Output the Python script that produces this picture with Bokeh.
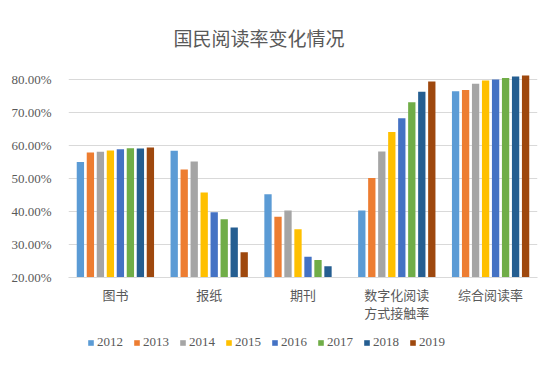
from bokeh.plotting import figure
from bokeh.layouts import column
from bokeh.models import ColumnDataSource, Range1d, FactorRange, NumeralTickFormatter, Legend, LegendItem, FixedTicker
from bokeh.transform import dodge
from bokeh.embed import file_html
from bokeh.resources import INLINE

title = "国民阅读率变化情况"
categories = ["图书", "报纸", "期刊", "数字化阅读\n方式接触率", "综合阅读率"]
years = ["2012", "2013", "2014", "2015", "2016", "2017", "2018", "2019"]
# values in percent, one list per year, in category order
v2012 = [54.9, 58.3, 45.2, 40.3, 76.3]
v2013 = [57.8, 52.7, 38.4, 50.1, 76.7]
v2014 = [58.0, 55.1, 40.3, 58.1, 78.6]
v2015 = [58.4, 45.7, 34.6, 64.0, 79.6]
v2016 = [58.8, 39.7, 26.3, 68.2, 79.9]
v2017 = [59.1, 37.6, 25.3, 73.0, 80.3]
v2018 = [59.0, 35.1, 23.4, 76.2, 80.8]
v2019 = [59.3, 27.6, 19.3, 79.3, 81.1]
series = [v2012, v2013, v2014, v2015, v2016, v2017, v2018, v2019]
colors = ["#5B9BD5", "#ED7D31", "#A5A5A5", "#FFC000", "#4472C4", "#70AD47", "#255E91", "#9E480E"]
y_ticks = [0.2, 0.3, 0.4, 0.5, 0.6, 0.7, 0.8]

data = {"cat": categories}
for y, vals in zip(years, series):
    data["y" + y] = [v / 100 for v in vals]
source = ColumnDataSource(data)

SERIF = "Liberation Serif, Noto Sans CJK SC"
GRAY = "#595959"

p = figure(x_range=FactorRange(*categories), y_range=Range1d(0.2, 0.82),
           width=538, height=323, output_backend="svg", toolbar_location=None,
           min_border_left=68, min_border_right=1, min_border_top=72, min_border_bottom=40)

p.title.text = title
p.title.align = "left"
p.title.text_font = SERIF
p.title.text_font_size = "19px"
p.title.text_font_style = "normal"
p.title.text_color = GRAY
p.title.offset = 105
p.title.standoff = 46

n = len(years)
pitch = 0.1066
for i, (y, c) in enumerate(zip(years, colors)):
    p.vbar(x=dodge("cat", (i - (n - 1) / 2) * pitch, range=p.x_range), top="y" + y,
           bottom=0, width=0.078, source=source, color=c, line_color=None)

p.yaxis.ticker = FixedTicker(ticks=y_ticks)
p.yaxis.formatter = NumeralTickFormatter(format="0.00%")
p.yaxis.axis_line_color = None
p.yaxis.major_tick_line_color = None
p.yaxis.minor_tick_line_color = None
p.yaxis.major_label_text_font = "Liberation Serif"
p.yaxis.major_label_text_font_size = "13px"
p.yaxis.major_label_text_color = GRAY
p.yaxis.major_label_standoff = 11

p.xaxis.axis_line_color = "#d9d9d9"
p.xaxis.major_tick_line_color = None
p.xaxis.minor_tick_line_color = None
p.xaxis.major_label_text_font = SERIF
p.xaxis.major_label_text_font_size = "13px"
p.xaxis.major_label_text_color = GRAY
p.xaxis.major_label_standoff = 4

p.xgrid.grid_line_color = None
p.ygrid.grid_line_color = "#d9d9d9"
p.ygrid.ticker = FixedTicker(ticks=y_ticks)
p.outline_line_color = None
p.x_range.range_padding = 0
p.x_range.group_padding = 0

# legend strip: same bars, drawn out of view, only to supply legend swatches
lg = figure(width=538, height=27, output_backend="svg", toolbar_location=None,
            x_range=FactorRange(*categories), y_range=Range1d(5, 6),
            min_border_left=0, min_border_right=0, min_border_top=0, min_border_bottom=0)
lg.axis.visible = False
lg.grid.visible = False
lg.outline_line_color = None
items = []
for y, c in zip(years, colors):
    r = lg.vbar(x="cat", top="y" + y, bottom=0, width=0.05, source=source, color=c, line_color=None)
    items.append(LegendItem(label=y, renderers=[r]))
legend = Legend(items=items, orientation="horizontal", location=(19, 0),
                label_text_font="Liberation Serif", label_text_font_size="13px", label_text_color=GRAY,
                glyph_width=7, glyph_height=7, spacing=10, label_standoff=3,
                border_line_color=None, background_fill_alpha=0, margin=0, padding=0)
lg.add_layout(legend, "center")

layout = column(p, lg, spacing=0)
open("out.html", "w").write(file_html(layout, INLINE))
